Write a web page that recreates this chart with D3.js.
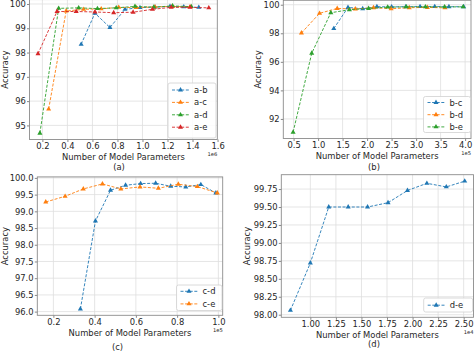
<!DOCTYPE html>
<html><head><meta charset="utf-8">
<script src="https://cdn.jsdelivr.net/npm/d3@7"></script>
<style>
body{margin:0;background:#fff;}
svg{display:block;font-family:"DejaVu Sans",sans-serif;}
</style></head>
<body><svg id="c" width="474" height="355"></svg>
<script>
// ---------- data ----------
// Panel (a) x in 1e6
const abX=[0.51,0.62,0.74,0.86,0.98,1.10,1.22,1.33,1.45];
const abY=[98.34,99.62,99.03,99.78,99.85,99.87,99.90,99.88,99.86];
const acX=[0.25,0.39,0.53,0.67,0.81,0.95,1.10,1.24,1.38];
const acY=[95.67,99.71,99.78,99.80,99.86,99.85,99.88,99.90,99.88];
const adX=[0.18,0.33,0.49,0.64,0.79,0.94,1.09,1.24,1.39];
const adY=[94.68,99.82,99.84,99.81,99.84,99.90,99.87,99.92,99.89];
const aeX=[0.165,0.317,0.47,0.62,0.77,0.925,1.08,1.23,1.38,1.53];
const aeY=[97.95,99.69,99.69,99.67,99.64,99.66,99.78,99.86,99.86,99.84];
// Panel (b) x in 1e5
const bcX=[1.32,1.61,1.91,2.20,2.50,2.79,3.08,3.38,3.67,3.97];
const bcY=[98.33,99.81,99.72,99.86,99.85,99.86,99.87,99.87,99.86,99.86];
const bdX=[0.66,1.03,1.39,1.76,2.13,2.49,2.86,3.23,3.59];
const bdY=[98.02,99.40,99.74,99.70,99.79,99.72,99.79,99.81,99.78];
const beX=[0.49,0.87,1.26,1.64,2.03,2.42,2.80,3.19,3.58,3.96];
const beY=[91.07,96.60,99.44,99.65,99.74,99.83,99.85,99.85,99.85,99.85];
// Panel (c) x in 1e5
const cdX=[0.331,0.404,0.477,0.550,0.623,0.696,0.769,0.842,0.915,0.988];
const cdY=[96.08,98.71,99.63,99.78,99.83,99.84,99.75,99.73,99.80,99.55];
const ceX=[0.163,0.257,0.345,0.438,0.527,0.620,0.709,0.806,0.898,0.995];
const ceY=[99.28,99.45,99.67,99.82,99.67,99.73,99.69,99.81,99.74,99.55];
// Panel (d) x in 1e4
const deX=[0.805,1.00,1.18,1.37,1.56,1.76,1.95,2.14,2.33,2.51];
const deY=[98.06,98.72,99.50,99.50,99.50,99.56,99.73,99.83,99.78,99.86];

const labelsA=["a-b","a-c","a-d","a-e"];
const labelsB=["b-c","b-d","b-e"];
const labelsC=["c-d","c-e"];
const labelsD=["d-e"];

const ticksAx=[0.2,0.4,0.6,0.8,1.0,1.2,1.4,1.6], ticksAy=[95,96,97,98,99,100];
const ticksBx=[0.5,1.0,1.5,2.0,2.5,3.0,3.5,4.0], ticksBy=[92,94,96,98,100];
const ticksCx=[0.2,0.4,0.6,0.8,1.0], ticksCy=[96.0,96.5,97.0,97.5,98.0,98.5,99.0,99.5,100.0];
const ticksDx=[1.00,1.25,1.50,1.75,2.00,2.25,2.50], ticksDy=[98.00,98.25,98.50,98.75,99.00,99.25,99.50,99.75];

const palette=["#1f77b4","#ff7f0e","#2ca02c","#d62728"];

// ---------- drawing ----------
const svg=d3.select("#c");
const FS=8.4;
const tri=d3.symbol().type(d3.symbolTriangle).size(11);

function panel(o){
  const x=d3.scaleLinear().domain(o.xd).range(o.xr);
  const y=d3.scaleLinear().domain(o.yd).range(o.yr);
  const g=svg.append("g");
  // grid
  g.append("g").selectAll("line").data(o.xt.filter(v=>v>=o.xd[0]&&v<=o.xd[1])).join("line")
    .attr("x1",d=>x(d)).attr("x2",d=>x(d)).attr("y1",o.yr[0]).attr("y2",o.yr[1])
    .attr("stroke","#dedede").attr("stroke-width",0.8);
  g.append("g").selectAll("line").data(o.yt.filter(v=>v>=o.yd[0]&&v<=o.yd[1])).join("line")
    .attr("y1",d=>y(d)).attr("y2",d=>y(d)).attr("x1",o.xr[0]).attr("x2",o.xr[1])
    .attr("stroke","#dedede").attr("stroke-width",0.8);
  // axes
  const ax=g.append("g").attr("transform",`translate(0,${o.yr[0]})`)
    .call(d3.axisBottom(x).tickValues(o.xt).tickFormat(o.xf).tickSize(2.5).tickPadding(1.3));
  const ay=g.append("g").attr("transform",`translate(${o.xr[0]},0)`)
    .call(d3.axisLeft(y).tickValues(o.yt.filter(v=>v>=o.yd[0]&&v<=o.yd[1])).tickFormat(o.yf).tickSize(2.5).tickPadding(1.2));
  [ax,ay].forEach(a=>{
    a.select(".domain").remove();
    a.selectAll("text").attr("font-size",FS).attr("fill","#262626").attr("font-family","DejaVu Sans");
    a.selectAll("line").attr("stroke","#555").attr("stroke-width",0.7);
  });
  // frame
  g.append("rect").attr("x",o.xr[0]).attr("y",o.yr[1]).attr("width",o.xr[1]-o.xr[0]).attr("height",o.yr[0]-o.yr[1])
    .attr("fill","none").attr("stroke","#8c8c8c").attr("stroke-width",0.9);
  // series
  const line=d3.line().x(d=>x(d[0])).y(d=>y(d[1]));
  o.series.forEach((s,i)=>{
    const pts=s.x.map((v,k)=>[v,s.y[k]]);
    g.append("path").attr("d",line(pts)).attr("fill","none").attr("stroke",palette[i])
      .attr("stroke-width",0.9).attr("stroke-dasharray","3,1.6");
    g.append("g").selectAll("path").data(pts).join("path")
      .attr("transform",d=>`translate(${x(d[0])},${y(d[1])})`).attr("d",tri).attr("fill",palette[i]);
  });
  // labels
  g.append("text").attr("x",(o.xr[0]+o.xr[1])/2).attr("y",o.yr[0]+20.5).attr("text-anchor","middle")
    .attr("font-size",FS).attr("fill","#262626").text("Number of Model Parameters");
  g.append("text").attr("transform",`translate(${o.ylx},${(o.yr[0]+o.yr[1])/2}) rotate(-90)`).attr("text-anchor","middle")
    .attr("font-size",FS).attr("fill","#262626").text("Accuracy");
  g.append("text").attr("x",o.xr[1]).attr("y",o.yr[0]+16.5).attr("text-anchor","end")
    .attr("font-size",5.2).attr("fill","#262626").text(o.mult);
  g.append("text").attr("x",o.capX).attr("y",o.capY).attr("text-anchor","middle")
    .attr("font-size",FS).attr("fill","#262626").text(o.cap);
  // legend
  const L=o.leg;
  const lg=g.append("g");
  lg.append("rect").attr("x",L.x).attr("y",L.y).attr("width",L.w).attr("height",L.h).attr("rx",2)
    .attr("fill","#fff").attr("fill-opacity",0.85).attr("stroke","#d0d0d0").attr("stroke-width",0.8);
  o.labels.forEach((lab,i)=>{
    const yy=L.y0+i*L.dy;
    lg.append("line").attr("x1",L.x+4).attr("x2",L.x+21).attr("y1",yy).attr("y2",yy)
      .attr("stroke",palette[i]).attr("stroke-width",0.9).attr("stroke-dasharray","3,1.6");
    lg.append("path").attr("transform",`translate(${L.x+12.5},${yy})`).attr("d",tri).attr("fill",palette[i]);
    lg.append("text").attr("x",L.x+26).attr("y",yy+3).attr("font-size",FS).attr("fill","#262626").text(lab);
  });
}

const f1=d3.format(".1f"), f0=d3.format("d"), f2=d3.format(".2f");

panel({xd:[0.097,1.598],xr:[29.5,217.3],yd:[94.42,100.18],yr:[139.5,-0.4],
  xt:ticksAx,yt:ticksAy,xf:f1,yf:f0,
  series:[{x:abX,y:abY},{x:acX,y:acY},{x:adX,y:adY},{x:aeX,y:aeY}],labels:labelsA,
  ylx:7.6,mult:"1e6",cap:"(a)",capX:119,capY:170,
  leg:{x:168,y:83,w:48,h:55,y0:90,dy:12.4}});

panel({xd:[0.29,4.12],xr:[283.3,471],yd:[90.63,100.31],yr:[138.5,0.3],
  xt:ticksBx,yt:ticksBy,xf:f1,yf:f0,
  series:[{x:bcX,y:bcY},{x:bdX,y:bdY},{x:beX,y:beY}],labels:labelsB,
  ylx:261,mult:"1e5",cap:"(b)",capX:374,capY:170,
  leg:{x:423.5,y:96.5,w:47,h:36,y0:102.5,dy:12.2}});

panel({xd:[0.122,1.021],xr:[37.3,222.7],yd:[95.89,100.03],yr:[315.3,176.9],
  xt:ticksCx,yt:ticksCy,xf:f1,yf:f1,
  series:[{x:cdX,y:cdY},{x:ceX,y:ceY}],labels:labelsC,
  ylx:7.6,mult:"1e5",cap:"(c)",capX:117.5,capY:349.5,
  leg:{x:176.5,y:285,w:45.5,h:25.5,y0:291.3,dy:12.6}});

panel({xd:[0.716,2.596],xr:[281.3,473.5],yd:[97.964,99.95],yr:[317.3,174.7],
  xt:ticksDx,yt:ticksDy,xf:f2,yf:f2,
  series:[{x:deX,y:deY}],labels:labelsD,
  ylx:249.5,mult:"1e4",cap:"(d)",capX:374,capY:347,
  leg:{x:423.7,y:298,w:49,h:14,y0:305.2,dy:12}});
</script></body></html>
